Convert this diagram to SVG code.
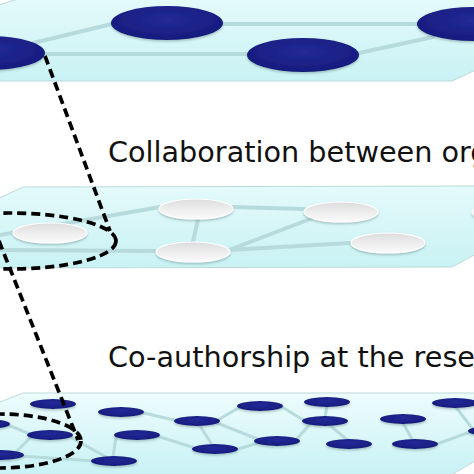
<svg xmlns="http://www.w3.org/2000/svg" width="474" height="474" viewBox="0 0 474 474">
<defs>
<linearGradient id="planeG" x1="0" y1="0" x2="0" y2="1">
<stop offset="0" stop-color="#e4fafb"/>
<stop offset="1" stop-color="#c9f2f4"/>
</linearGradient>
<linearGradient id="planeB" x1="0" y1="0" x2="0" y2="1">
<stop offset="0" stop-color="#eefcfd"/>
<stop offset="1" stop-color="#c6f1f4"/>
</linearGradient>
<radialGradient id="navy" cx="0.5" cy="0.4" r="0.6">
<stop offset="0" stop-color="#232a98"/>
<stop offset="1" stop-color="#161b7c"/>
</radialGradient>
<linearGradient id="grey" x1="0" y1="0" x2="0" y2="1">
<stop offset="0" stop-color="#dcdcdc"/>
<stop offset="0.55" stop-color="#efefef"/>
<stop offset="1" stop-color="#fafafa"/>
</linearGradient>
<filter id="sh" x="-20%" y="-40%" width="140%" height="190%">
<feDropShadow dx="0" dy="1.5" stdDeviation="1.2" flood-color="#5a7a80" flood-opacity="0.45"/>
</filter>
</defs>
<style>
.plane{stroke:#bcd9dc;stroke-width:1}
.edge{stroke:#b7dbdc;stroke-width:4;stroke-linecap:round;fill:none}
.edgeS{stroke:#b7dbdc;stroke-width:3;stroke-linecap:round;fill:none}
.big{fill:url(#navy);filter:url(#sh)}
.small{fill:url(#navy);filter:url(#sh)}
.mid{fill:url(#grey);stroke:#ffffff;stroke-width:1.2;filter:url(#sh)}
.dash{stroke:#000;stroke-width:3.7;stroke-dasharray:9 5;fill:none}
.lbl{font-family:"DejaVu Sans",Verdana,sans-serif;font-size:28.7px;fill:#111}
</style>
<rect width="474" height="474" fill="#ffffff"/>
<g id="planes">
<polygon class="plane" fill="url(#planeG)" points="18,-1 480,-1 480,68 452,81 -5,81 -5,6"/>
<polygon class="plane" fill="url(#planeG)" points="23,187 480,186 480,252 452,267 -5,268 -5,200"/>
<polygon class="plane" fill="url(#planeB)" points="23,393 480,393 480,458 453,474 453,480 -5,480 -5,404"/>
</g>
<g id="connectors">
<line class="edge" x1="33" y1="43" x2="112" y2="24"/>
<line class="edge" x1="223" y1="24" x2="417" y2="24"/>
<line class="edge" x1="45" y1="54" x2="247" y2="54"/>
<line class="edge" x1="359" y1="53" x2="433" y2="37"/>
<line class="edge" x1="0" y1="235" x2="160" y2="207"/>
<line class="edge" x1="233" y1="207" x2="304" y2="209"/>
<line class="edge" x1="198" y1="219" x2="193" y2="242"/>
<line class="edge" x1="229" y1="250" x2="313" y2="218"/>
<line class="edge" x1="229" y1="250" x2="350" y2="243"/>
<line class="edge" x1="0" y1="250" x2="157" y2="251"/>
<line class="edgeS" x1="8" y1="425" x2="30" y2="434"/>
<line class="edgeS" x1="30" y1="438" x2="16" y2="452"/>
<line class="edgeS" x1="20" y1="456" x2="95" y2="461"/>
<line class="edgeS" x1="72" y1="438" x2="108" y2="458"/>
<line class="edgeS" x1="113" y1="457" x2="116" y2="437"/>
<line class="edgeS" x1="144" y1="413" x2="178" y2="421"/>
<line class="edgeS" x1="157" y1="436" x2="195" y2="448"/>
<line class="edgeS" x1="198" y1="423" x2="213" y2="446"/>
<line class="edgeS" x1="218" y1="420" x2="240" y2="407"/>
<line class="edgeS" x1="217" y1="423" x2="260" y2="440"/>
<line class="edgeS" x1="235" y1="450" x2="258" y2="443"/>
<line class="edgeS" x1="282" y1="407" x2="305" y2="421"/>
<line class="edgeS" x1="296" y1="440" x2="310" y2="424"/>
<line class="edgeS" x1="327" y1="405" x2="325" y2="418"/>
<line class="edgeS" x1="328" y1="424" x2="350" y2="442"/>
<line class="edgeS" x1="403" y1="423" x2="413" y2="441"/>
<line class="edgeS" x1="437" y1="444" x2="470" y2="432"/>
<line class="edgeS" x1="455" y1="406" x2="472" y2="428"/>
</g>
<g id="E1"><ellipse class="big" cx="167" cy="23" rx="56" ry="17"/></g>
<g id="E2"><ellipse class="big" cx="-11" cy="53" rx="56" ry="17"/></g>
<g id="E3"><ellipse class="big" cx="303" cy="55" rx="56" ry="17"/></g>
<g id="E4"><ellipse class="big" cx="473" cy="24" rx="56" ry="17"/></g>
<g id="M1"><ellipse class="mid" cx="50" cy="233" rx="37" ry="10"/></g>
<g id="M2"><ellipse class="mid" cx="196" cy="209" rx="37" ry="10"/></g>
<g id="M3"><ellipse class="mid" cx="341" cy="212" rx="37" ry="10"/></g>
<g id="M4"><ellipse class="mid" cx="193" cy="252" rx="37" ry="10"/></g>
<g id="M5"><ellipse class="mid" cx="388" cy="243" rx="37" ry="10"/></g>
<g id="M6"><ellipse class="mid" cx="509" cy="212" rx="37" ry="10"/></g>
<g id="B1"><ellipse class="small" cx="53" cy="404" rx="23" ry="5"/></g>
<g id="B2"><ellipse class="small" cx="121" cy="412" rx="23" ry="5"/></g>
<g id="B3"><ellipse class="small" cx="197" cy="421" rx="23" ry="5"/></g>
<g id="B4"><ellipse class="small" cx="260" cy="406" rx="23" ry="5"/></g>
<g id="B5"><ellipse class="small" cx="327" cy="402" rx="23" ry="5"/></g>
<g id="B6"><ellipse class="small" cx="455" cy="403" rx="23" ry="5"/></g>
<g id="B7"><ellipse class="small" cx="325" cy="421" rx="23" ry="5"/></g>
<g id="B8"><ellipse class="small" cx="403" cy="419" rx="23" ry="5"/></g>
<g id="B9"><ellipse class="small" cx="-13" cy="424" rx="23" ry="5"/></g>
<g id="B10"><ellipse class="small" cx="50" cy="435" rx="23" ry="5"/></g>
<g id="B11"><ellipse class="small" cx="137" cy="435" rx="23" ry="5"/></g>
<g id="B12"><ellipse class="small" cx="277" cy="441" rx="23" ry="5"/></g>
<g id="B13"><ellipse class="small" cx="349" cy="444" rx="23" ry="5"/></g>
<g id="B14"><ellipse class="small" cx="415" cy="444" rx="23" ry="5"/></g>
<g id="B15"><ellipse class="small" cx="491" cy="431" rx="23" ry="5"/></g>
<g id="B16"><ellipse class="small" cx="1" cy="455" rx="23" ry="5"/></g>
<g id="B17"><ellipse class="small" cx="114" cy="461" rx="23" ry="5"/></g>
<g id="B18"><ellipse class="small" cx="215" cy="449" rx="23" ry="5"/></g>
<g id="dashed">
<line class="dash" x1="45" y1="56" x2="110" y2="231"/>
<ellipse class="dash" cx="10" cy="241" rx="106" ry="28"/>
<line class="dash" x1="-1" y1="241" x2="78" y2="440"/>
<ellipse class="dash" cx="0" cy="441" rx="81" ry="27"/>
</g>
<g id="labels">
<text class="lbl" x="108" y="162">Collaboration between org</text>
<text class="lbl" x="108" y="367">Co-authorship at the rese</text>
</g>
</svg>
